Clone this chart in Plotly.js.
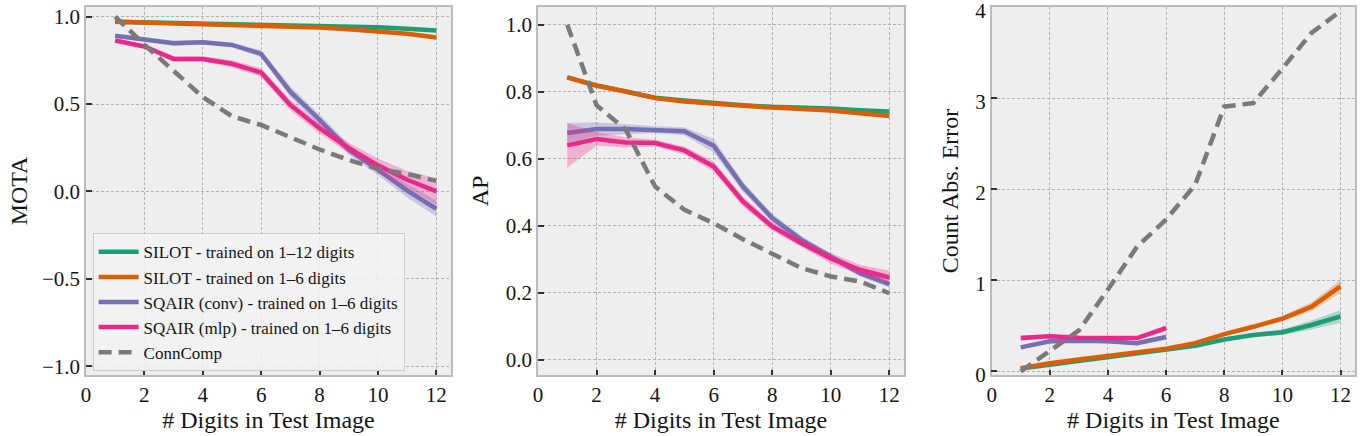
<!DOCTYPE html>
<html>
<head>
<meta charset="utf-8">
<script src="https://cdn.plot.ly/plotly-3.0.1.min.js"></script>
<style>
  html, body { margin: 0; padding: 0; background: #fff; }
  #chart { width: 1362px; height: 436px; }
</style>
</head>
<body>
<div id="chart"></div>
<script>
// x values (number of digits in the test image)
const digits = [1, 2, 3, 4, 5, 6, 7, 8, 9, 10, 11, 12];
const digitsSqair = [1, 2, 3, 4, 5, 6];

const seriesNames = [
    "SILOT - trained on 1–12 digits",
    "SILOT - trained on 1–6 digits",
    "SQAIR (conv) - trained on 1–6 digits",
    "SQAIR (mlp) - trained on 1–6 digits",
    "ConnComp"
];

// MOTA
const motaSilot12 = [0.970, 0.967, 0.963, 0.960, 0.958, 0.956, 0.953, 0.949, 0.944, 0.939, 0.931, 0.920];
const motaSilot6  = [0.971, 0.966, 0.961, 0.958, 0.955, 0.952, 0.946, 0.937, 0.928, 0.918, 0.902, 0.880];
const motaConv    = [0.891, 0.871, 0.848, 0.853, 0.838, 0.787, 0.570, 0.410, 0.240, 0.124, 0.005, -0.099];
const motaMlp     = [0.863, 0.829, 0.758, 0.758, 0.730, 0.680, 0.495, 0.362, 0.248, 0.149, 0.067, 0.000];
const motaConn    = [1.000, 0.840, 0.690, 0.540, 0.430, 0.380, 0.310, 0.240, 0.180, 0.130, 0.100, 0.060];
const motaSilot12Sd = [0.005, 0.005, 0.005, 0.005, 0.005, 0.005, 0.005, 0.006, 0.006, 0.007, 0.008, 0.008];
const motaSilot6Sd  = [0.005, 0.005, 0.005, 0.005, 0.005, 0.005, 0.005, 0.006, 0.006, 0.007, 0.008, 0.008];
const motaConvSd    = [0.010, 0.010, 0.015, 0.012, 0.012, 0.020, 0.030, 0.030, 0.030, 0.030, 0.040, 0.045];
const motaMlpSd     = [0.010, 0.010, 0.015, 0.015, 0.020, 0.025, 0.030, 0.030, 0.030, 0.040, 0.050, 0.075];

// AP
const apSilot12 = [0.843, 0.819, 0.801, 0.782, 0.774, 0.766, 0.760, 0.755, 0.753, 0.750, 0.745, 0.741];
const apSilot6  = [0.843, 0.818, 0.801, 0.781, 0.771, 0.763, 0.758, 0.753, 0.750, 0.744, 0.736, 0.728];
const apConv    = [0.677, 0.689, 0.689, 0.687, 0.682, 0.639, 0.517, 0.423, 0.358, 0.308, 0.259, 0.226];
const apMlp     = [0.640, 0.659, 0.649, 0.647, 0.625, 0.577, 0.473, 0.398, 0.348, 0.303, 0.269, 0.246];
const apConn    = [1.000, 0.760, 0.687, 0.517, 0.448, 0.408, 0.360, 0.318, 0.274, 0.249, 0.234, 0.199];
const apSilot12Sd = [0.004, 0.004, 0.004, 0.004, 0.004, 0.004, 0.004, 0.004, 0.004, 0.004, 0.005, 0.005];
const apSilot6Sd  = [0.004, 0.004, 0.004, 0.004, 0.004, 0.004, 0.004, 0.004, 0.004, 0.004, 0.005, 0.005];
const apConvSd    = [0.030, 0.020, 0.015, 0.010, 0.012, 0.020, 0.015, 0.012, 0.012, 0.010, 0.010, 0.010];
const apMlpSd     = [0.067, 0.020, 0.015, 0.010, 0.012, 0.015, 0.015, 0.012, 0.012, 0.015, 0.015, 0.020];

// Count absolute error
const cntSilot12 = [0.030, 0.070, 0.110, 0.150, 0.200, 0.240, 0.280, 0.350, 0.400, 0.430, 0.510, 0.604];
const cntSilot6  = [0.035, 0.090, 0.130, 0.170, 0.215, 0.250, 0.310, 0.410, 0.490, 0.580, 0.710, 0.934];
const cntConv    = [0.264, 0.330, 0.337, 0.330, 0.310, 0.377];
const cntMlp     = [0.366, 0.385, 0.370, 0.366, 0.366, 0.476];
const cntConn    = [0.000, 0.220, 0.450, 0.900, 1.370, 1.670, 2.050, 2.910, 2.950, 3.330, 3.720, 3.960];
const cntSilot12Sd = [0.010, 0.010, 0.010, 0.010, 0.012, 0.012, 0.015, 0.020, 0.025, 0.030, 0.050, 0.070];
const cntSilot6Sd  = [0.010, 0.010, 0.010, 0.010, 0.012, 0.012, 0.015, 0.020, 0.025, 0.030, 0.050, 0.070];
const cntConvSd    = [0.020, 0.020, 0.020, 0.020, 0.020, 0.030];
const cntMlpSd     = [0.030, 0.020, 0.020, 0.020, 0.020, 0.035];

const colors = ["#1b9e77", "#d95f02", "#7570b3", "#e7298a", "#7a7a7a"];
const bandColors = [
    "rgba(27,158,119,0.3)",
    "rgba(217,95,2,0.3)",
    "rgba(117,112,179,0.3)",
    "rgba(231,41,138,0.3)"
];

const serif = "'Liberation Serif', 'Times New Roman', serif";
const ink = "#151515";

function band(x, y, sd, i, ax) {
    const hi = y.map((v, k) => v + sd[k]);
    const lo = y.map((v, k) => v - sd[k]);
    return {
        x: x.concat(x.slice().reverse()),
        y: hi.concat(lo.slice().reverse()),
        type: "scatter",
        mode: "lines",
        fill: "toself",
        fillcolor: bandColors[i],
        line: { width: 0 },
        hoverinfo: "skip",
        showlegend: false,
        xaxis: "x" + ax,
        yaxis: "y" + ax
    };
}

function line(x, y, i, ax) {
    return {
        name: seriesNames[i],
        x: x,
        y: y,
        type: "scatter",
        mode: "lines",
        line: i === 4
            ? { color: colors[i], width: 4.5, dash: "13px,7px" }
            : { color: colors[i], width: 4.5 },
        showlegend: ax === "",
        legendrank: i + 1,
        xaxis: "x" + ax,
        yaxis: "y" + ax
    };
}

function panel(ax, xs, ys, sds) {
    const out = [];
    for (let i = 0; i < 4; i++) {
        out.push(band(xs[i], ys[i], sds[i], i, ax));
        out.push(line(xs[i], ys[i], i, ax));
    }
    out.push(line(digits, ys[4], 4, ax));
    return out;
}

const traces = [].concat(
    panel("",
        [digits, digits, digits, digits],
        [motaSilot12, motaSilot6, motaConv, motaMlp, motaConn],
        [motaSilot12Sd, motaSilot6Sd, motaConvSd, motaMlpSd]),
    panel("2",
        [digits, digits, digits, digits],
        [apSilot12, apSilot6, apConv, apMlp, apConn],
        [apSilot12Sd, apSilot6Sd, apConvSd, apMlpSd]),
    panel("3",
        [digits, digits, digitsSqair, digitsSqair],
        [cntSilot12, cntSilot6, cntConv, cntMlp, cntConn],
        [cntSilot12Sd, cntSilot6Sd, cntConvSd, cntMlpSd])
);

function xAxis(domain, anchor) {
    return {
        domain: domain,
        anchor: anchor,
        range: [0, 12.5],
        tick0: 0,
        dtick: 2,
        ticks: "inside",
        ticklen: 5,
        tickwidth: 1.5,
        tickcolor: "#333",
        showline: true,
        mirror: true,
        linecolor: "#bcbcbc",
        linewidth: 1.5,
        showgrid: true,
        gridcolor: "#b2b2b2",
        gridwidth: 0.8,
        griddash: "3px,2px",
        zeroline: false,
        tickfont: { family: serif, size: 21, color: ink },
        title: {
            text: "# Digits in Test Image",
            font: { family: serif, size: 24, color: ink },
            standoff: 4
        }
    };
}

function yAxis(domainAnchor, range, dtick, fmt, title, standoff) {
    return {
        domain: [0.1399, 0.984],
        anchor: domainAnchor,
        range: range,
        dtick: dtick,
        tick0: 0,
        tickformat: fmt,
        ticks: "inside",
        ticklen: 6,
        tickwidth: 1.5,
        tickcolor: "#333",
        ticklabeloverflow: "allow",
        showline: true,
        mirror: true,
        linecolor: "#bcbcbc",
        linewidth: 1.5,
        showgrid: true,
        gridcolor: "#b2b2b2",
        gridwidth: 0.8,
        griddash: "3px,2px",
        zeroline: false,
        tickfont: { family: serif, size: 21, color: ink },
        title: {
            text: title,
            font: { family: serif, size: 24, color: ink },
            standoff: standoff
        }
    };
}

const yaxis3 = yAxis("x3", [-0.04, 4.006], 1, "d", "Count Abs. Error", 10);
yaxis3.ticklabelshift = 3;

const layout = {
    width: 1362,
    height: 436,
    margin: { l: 0, r: 0, t: 0, b: 0 },
    paper_bgcolor: "#ffffff",
    plot_bgcolor: "#eeeeee",
    font: { family: serif, color: ink },

    xaxis: xAxis([0.0631, 0.3311], "y"),
    yaxis: yAxis("x", [-1.05, 1.055], 0.5, ".1f", "MOTA", 7),

    xaxis2: xAxis([0.395, 0.6637], "y2"),
    yaxis2: yAxis("x2", [-0.045, 1.053], 0.2, ".1f", "AP", 10),

    xaxis3: xAxis([0.7281, 0.9949], "y3"),
    yaxis3: yaxis3,

    showlegend: true,
    legend: {
        x: 0.068,
        y: 0.465,
        xanchor: "left",
        yanchor: "top",
        bgcolor: "rgba(242,242,242,0.85)",
        bordercolor: "#cccccc",
        borderwidth: 1,
        itemwidth: 40,
        tracegroupgap: 0,
        font: { family: serif, size: 17, color: ink }
    }
};

const config = {
    responsive: false,
    displayModeBar: false
};

Plotly.newPlot("chart", traces, layout, config);
</script>
</body>
</html>
